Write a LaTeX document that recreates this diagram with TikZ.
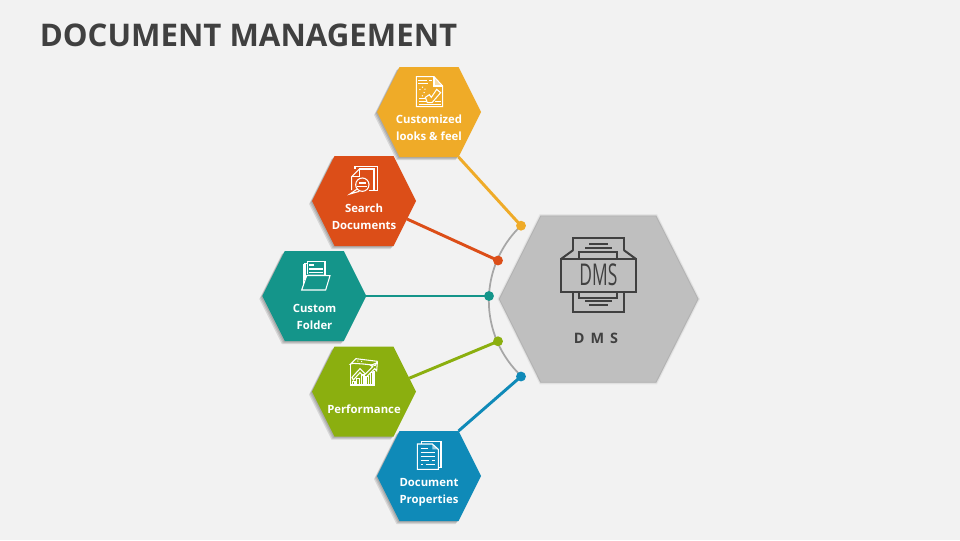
\documentclass[tikz,border=0pt]{standalone}
\usepackage{fontspec}
\setmainfont{Open Sans}
\usetikzlibrary{calc}
\definecolor{bgc}{HTML}{F2F2F2}
\definecolor{ink}{HTML}{404040}
\definecolor{cyel}{HTML}{EFAB28}
\definecolor{cred}{HTML}{DC4E18}
\definecolor{ctea}{HTML}{14958A}
\definecolor{cgre}{HTML}{8BAF0F}
\definecolor{cblu}{HTML}{0F8AB8}
\definecolor{cgry}{HTML}{BFBFBF}
\tikzset{
  hexbox/.style={inner sep=0pt,outer sep=0pt,draw=none},
  hextext/.style={text=white,align=center,inner sep=0pt,font=\bfseries\fontsize{8.5}{12.75}\selectfont},
  joint/.style={circle,fill=#1,inner sep=0pt,minimum size=7.4pt},
  link/.style={line width=2.2pt,draw=#1},
  ring/.style={line width=1.3pt,draw=black!35},
  iconw/.style={draw=white,line width=.8pt,line join=miter},
  icond/.style={draw=ink,line width=1.5pt,line join=miter},
  zoomed/.style={shift={#1},x=.25pt,y=-.25pt}
}
\newcommand{\hexshape}[7]{%
  \begin{scope}[shift={(#2,#3)}]
    \foreach \d in {1,2,3}{
      \fill[black,opacity=.11] ({#4-\d},{\d}) -- ({#5-\d},{#6+\d}) -- ({-#5-\d},{#6+\d}) -- ({-#4-\d},{\d}) -- ({-#5-\d},{-#6+\d}) -- ({#5-\d},{-#6+\d}) -- cycle;
    }
    \coordinate (#1-e) at (#4,0);
    \coordinate (#1-se) at (#5,#6);
    \coordinate (#1-sw) at (-#5,#6);
    \coordinate (#1-w) at (-#4,0);
    \coordinate (#1-nw) at (-#5,-#6);
    \coordinate (#1-ne) at (#5,-#6);
    \fill[#7] (#1-e) -- (#1-se) -- (#1-sw) -- (#1-w) -- (#1-nw) -- (#1-ne) -- cycle;
    \node[hexbox,minimum width=#4*1.5pt,minimum height=#6*1.5pt] (#1) at (0,0) {};
  \end{scope}}
\begin{document}
\begin{tikzpicture}[x=.75pt,y=-.75pt]
\path[fill=bgc,use as bounding box] (0,0) rectangle (960,540);
\node[anchor=base west,inner sep=0pt,text=ink,font=\bfseries\fontsize{23.4}{28}\selectfont] (title) at (39.5,46) {DOCUMENT MANAGEMENT};

% joints positions
\coordinate (py) at (521,225.7);
\coordinate (pr) at (498,260.5);
\coordinate (pt) at (489,296);
\coordinate (pg) at (498,341.3);
\coordinate (pb) at (521,376.5);

\draw[ring] (py) arc[start angle=133.6,end angle=226.6,radius=77.7pt];

% centre hexagon
\foreach \d in {2,1}{
  \fill[black,opacity=.05] ({499.3-\d},299) -- ({540.7-\d*.5},{216-\d}) -- ({656+\d*.5},{216-\d}) -- ({698+\d},299) -- ({656+\d*.5},{382.3+\d}) -- ({540.7-\d*.5},{382.3+\d}) -- cycle;
}
\coordinate (cw) at (499.3,299);
\coordinate (cnw) at (540.7,216);
\coordinate (cne) at (656,216);
\coordinate (ce) at (698,299);
\coordinate (cse) at (656,382.3);
\coordinate (csw) at (540.7,382.3);
\draw[fill=cgry,draw=black!30,line width=.6pt] (cw) -- (cnw) -- (cne) -- (ce) -- (cse) -- (csw) -- cycle;
\node[hexbox,minimum width=149pt,minimum height=124pt] (dms) at (598.7,299) {};
\node[inner sep=0pt,text=ink,font=\bfseries\fontsize{10.8}{13}\selectfont] (dmst) at (596,338.5) {D\hspace{.42em}M\hspace{.42em}S};

% outer hexagons
\hexshape{h1}{429}{112}{52}{29.5}{45}{cyel}
\hexshape{h2}{364}{201}{52}{29.5}{45}{cred}
\hexshape{h3}{314.3}{296}{52}{29.5}{45}{ctea}
\hexshape{h4}{364}{391.7}{52}{29.5}{45}{cgre}
\hexshape{h5}{429}{476}{52}{29.5}{45}{cblu}

\node[hextext] (t1) at (429,127.7) {Customized\\looks \& feel};
\node[hextext] (t2) at (364,216.7) {Search\\Documents};
\node[hextext] (t3) at (314.5,316.8) {Custom\\Folder};
\node[hextext] (t4) at (364,409.5) {Performance};
\node[hextext] (t5) at (429,492) {Document\\Properties};

% connectors and joints
\node[joint=cyel] (d1) at (py) {};
\node[joint=cred] (d2) at (pr) {};
\node[joint=ctea] (d3) at (pt) {};
\node[joint=cgre] (d4) at (pg) {};
\node[joint=cblu] (d5) at (pb) {};
\draw[link=cyel] (h1-se) -- (d1.center);
\draw[link=cred] ($(h2-e)!.4!(h2-se)$) -- (d2.center);
\draw[link=ctea] (h3-e) -- (d3.center);
\draw[link=cgre] ($(h4-e)!.3!(h4-ne)$) -- (d4.center);
\draw[link=cblu] (h5-ne) -- (d5.center);

% icon 1
\begin{scope}[zoomed={(370,60)}]
\fill[white,opacity=.6] (192,50) -- (192,78) -- (218,78) -- cycle;
\draw[iconw] (192,50) -- (139,50) -- (139,140) -- (218,140) -- (218,78) -- cycle;
\draw[iconw] (192,50) -- (192,78) -- (218,78);
\draw[iconw] (145,62) -- (170,62) (145,71) -- (175,71) (178,62) -- (187,62);
\draw[iconw,dotted] (149,90) .. controls (150,78) and (168,78) .. (166,92) .. controls (165,100) and (156,100) .. (156,110);
\draw[iconw] (147,116) -- (166,116) (147,125) -- (170,125) (147,133) -- (212,133) (195,125) -- (212,125);
\draw[iconw] (166,112) -- (178,104) -- (184,112) -- (200,88) -- (212,98) -- (186,128) -- (172,128) -- cycle;
\end{scope}

% icon 2
\begin{scope}[zoomed={(300,150)}]
\draw[iconw] (165,57) -- (165,50) -- (232,50) -- (232,122) -- (213,122);
\draw[iconw] (178,57) -- (222,57) -- (222,122) -- (208,122);
\draw[iconw] (178,57) -- (155,80) -- (155,120);
\draw[iconw] (178,57) -- (178,80) -- (155,80);
\draw[iconw] (187,104) circle[radius=5pt];
\draw[iconw] (170,118) -- (150,132) -- (178,124);
\draw[iconw] (178,99) -- (197,99) (172,109) -- (200,109);
\end{scope}

% icon 3
\begin{scope}[zoomed={(255,245)}]
\fill[white,opacity=.45] (158,88) -- (210,88) -- (220,92) -- (155,92) -- cycle;
\draw[iconw] (158,88) -- (158,50) -- (210,50) -- (210,90);
\draw[iconw] (158,55) -- (150,55) -- (150,105);
\draw[iconw] (150,60) -- (145,60) -- (145,122);
\draw[iconw] (155,92) -- (225,92) -- (212,135) -- (140,135) -- cycle;
\draw[iconw] (163,60) -- (178,60) (163,72) -- (205,72) (163,82) -- (205,82);
\end{scope}

% icon 4
\begin{scope}[zoomed={(300,340)}]
\draw[iconw] (152,72) -- (152,135) -- (222,135) -- (222,92);
\draw[iconw] (152,72) -- (168,56) -- (232,64) -- (226,76) -- (190,72) -- (160,70) -- cycle;
\draw[iconw,dotted] (172,63) -- (190,65);
\draw[iconw] (156,112) -- (180,86) -- (196,102) -- (218,80) -- (212,76) -- (232,68) -- (230,92) -- (224,86) -- (196,114) -- (180,98) -- (160,120) -- cycle;
\draw[iconw] (158,132) -- (158,124) -- (165,124) -- (165,132) (170,132) -- (170,116) -- (178,116) -- (178,132) (184,132) -- (184,104) -- (192,104) -- (192,132) (198,132) -- (198,110) -- (206,110) -- (206,132) (211,132) -- (211,98) -- (218,98) -- (218,132);
\end{scope}

% icon 5
\begin{scope}[zoomed={(370,425)}]
\draw[iconw] (155,57) -- (155,50) -- (213,50) -- (213,128) -- (205,128);
\draw[iconw] (142,57) -- (187,57) -- (205,73) -- (205,133) -- (142,133) -- cycle;
\fill[white,opacity=.6] (187,57) -- (187,73) -- (205,73) -- cycle;
\draw[iconw] (152,70) -- (175,70) (152,83) -- (195,83) (152,94) -- (195,94) (152,106) -- (178,106) (185,106) -- (195,106) (152,118) -- (160,118) (167,118) -- (195,118);
\end{scope}

% icon DMS
\begin{scope}[zoomed={(480,205)}]
\draw[icond] (280,135) -- (280,98) -- (431,98) -- (431,135);
\draw[icond] (280,262) -- (280,322) -- (431,322) -- (431,262);
\draw[icond] (243,162) rectangle (468,260);
\draw[icond] (243,162) -- (280,135) (468,162) -- (431,135);
\draw[icond] (298,162) -- (298,140) -- (412,140) -- (412,162);
\draw[icond] (298,260) -- (298,278) -- (412,278) -- (412,260);
\draw[icond] (328,118) -- (383,118) (316,129) -- (396,129) (316,289) -- (396,289) (328,300) -- (383,300);
\node[inner sep=0pt,text=ink,xscale=.58,font=\fontsize{22.5}{24}\selectfont] (dmsicon) at (355,209) {DMS};
\end{scope}
\end{tikzpicture}
\end{document}
